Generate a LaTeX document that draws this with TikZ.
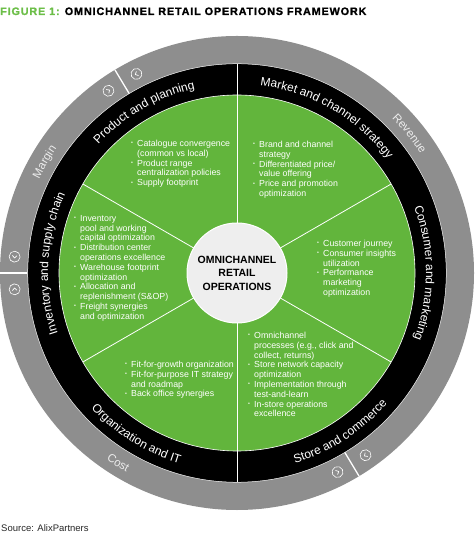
\documentclass[tikz,border=0pt]{standalone}
\usepackage{graphicx}
\usepackage{fontspec}
\setmainfont{Liberation Sans}
\newfontfamily\titlefont{Liberation Sans}[LetterSpace=8, BoldFeatures={FakeBold=1.2}]
\usetikzlibrary{decorations.text}
\definecolor{rgreen}{RGB}{98,181,60}
\definecolor{tgreen}{RGB}{108,190,72}
\definecolor{rgray}{RGB}{142,142,142}
\definecolor{cgray}{RGB}{238,238,238}
\definecolor{lblgray}{RGB}{236,236,236}
\newcommand\bi{\makebox[6pt][l]{\raisebox{0.35ex}{\scalebox{0.6}{\textbullet}}}}
\newcommand\bc{\hspace*{6pt}}
\tikzset{
  chevmark/.pic={
    \draw[white, line width=0.6pt] (0,0) circle[radius=5.5pt];
    \draw[white, line width=0.7pt, line cap=round, line join=round] (-1pt,2.2pt) -- (1.3pt,0pt) -- (-1pt,-2.2pt);
  },
  bul/.style={anchor=north west, inner sep=0pt, align=left, text=white, font=\fontsize{8.8}{9.8}\selectfont},
  ringlbl/.style={decorate, decoration={text along path, text align=center, text color=white, text={|\fontsize{12}{12}\selectfont|#1}}},
  outerlbl/.style={decorate, decoration={text along path, text align=center, text color=lblgray, text={|\fontsize{11.5}{12}\selectfont|#1}}},
  divider/.style={white, line width=0.8pt},
  graydiv/.style={white, line width=1.3pt}
}
\begin{document}
\begin{tikzpicture}
\useasboundingbox (-237pt,-264pt) rectangle (237pt,273pt);
% rings
\fill[rgray] (0,0) circle[radius=237pt];
\fill[black] (0,0) circle[radius=209pt];
\draw[white!80!gray, line width=0.5pt] (0,0) circle[radius=209.3pt];
\fill[rgreen] (0,0) circle[radius=178pt];
\draw[white, line width=0.6pt] (0,0) circle[radius=178pt];
% green dividers
\draw[divider] (90:50pt) -- (90:209pt);
\draw[divider] (-90:50pt) -- (-90:209pt);
\foreach \a in {30,-30,150,210} \draw[divider] (\a:50pt) -- (\a:178pt);
% gray dividers
\draw[graydiv] (121:209.5pt) -- (121:237pt);
\draw[graydiv] (180:209.5pt) -- (180:237pt);
\draw[graydiv] (-59:209.5pt) -- (-59:237pt);
% chevrons
\pic[rotate=35.2] at (125.2:223pt) {chevmark};
\pic[rotate=206.8] at (116.8:223pt) {chevmark};
\pic[rotate=265.8] at (175.8:223pt) {chevmark};
\pic[rotate=94.2] at (184.2:223pt) {chevmark};
\pic[rotate=-144.8] at (-54.8:223pt) {chevmark};
\pic[rotate=26.8] at (-63.2:223pt) {chevmark};
% hub
\node[circle, fill=cgray, draw=white, line width=1pt, minimum size=100pt, inner sep=0pt, align=center, font=\bfseries\fontsize{10.5}{13.5}\selectfont] (hub) at (0,0) {OMNICHANNEL\\RETAIL\\OPERATIONS};
% black ring labels
\path[ringlbl={Product and planning}] (150:189pt) arc[start angle=150, end angle=90, radius=189pt];
\path[ringlbl={Market and channel strategy}] (90:189pt) arc[start angle=90, end angle=30, radius=189pt];
\path[ringlbl={Consumer and marketing}] (30:189pt) arc[start angle=30, end angle=-30, radius=189pt];
\path[ringlbl={Inventory and supply chain}] (207:189pt) arc[start angle=207, end angle=147, radius=189pt];
\path[ringlbl={Organization and IT}] (208:199pt) arc[start angle=208, end angle=268, radius=199pt];
\path[ringlbl={Store and commerce}] (-87:199pt) arc[start angle=-87, end angle=-27, radius=199pt];
% gray ring labels
\path[outerlbl={Margin}] (180:219pt) arc[start angle=180, end angle=120, radius=219pt];
\path[outerlbl={Revenue}] (69:219pt) arc[start angle=69, end angle=9, radius=219pt];
\path[outerlbl={Cost}] (208:228pt) arc[start angle=208, end angle=268, radius=228pt];
% bullet lists
\node[bul] (s1) at (-106pt,133pt) {\bi Catalogue convergence\\ \bc(common vs local)\\ \bi Product range\\ \bc centralization policies\\ \bi Supply footprint};
\node[bul] (s2) at (16pt,132pt) {\bi Brand and channel\\ \bc strategy\\ \bi Differentiated price/\\ \bc value offering\\ \bi Price and promotion\\ \bc optimization};
\node[bul] (s3) at (80pt,33pt) {\bi Customer journey\\ \bi Consumer insights\\ \bc utilization\\ \bi Performance\\ \bc marketing\\ \bc optimization};
\node[bul] (s4) at (11pt,-59pt) {\bi Omnichannel\\ \bc processes (e.g., click and\\ \bc collect, returns)\\ \bi Store network capacity\\ \bc optimization\\ \bi Implementation through\\ \bc test-and-learn\\ \bi In-store operations\\ \bc excellence};
\node[bul] (s5) at (-112pt,-88pt) {\bi Fit-for-growth organization\\ \bi Fit-for-purpose IT strategy\\ \bc and roadmap\\ \bi Back office synergies};
\node[bul] (s6) at (-163pt,58pt) {\bi Inventory\\ \bc pool and working\\ \bc capital optimization\\ \bi Distribution center\\ \bc operations excellence\\ \bi Warehouse footprint\\ \bc optimization\\ \bi Allocation and\\ \bc replenishment (S\&OP)\\ \bi Freight synergies\\ \bc and optimization};
% title and source
\node[anchor=base west, inner sep=0pt, font=\titlefont\bfseries\fontsize{10.8}{12}\selectfont] (title) at (-237pt,258pt) {\textcolor{tgreen}{FIGURE 1:} OMNICHANNEL RETAIL OPERATIONS FRAMEWORK};
\node[anchor=base west, inner sep=0pt, font=\fontsize{9.5}{11}\selectfont, text=black!85] (src) at (-236pt,-258pt) {Source: AlixPartners};
\end{tikzpicture}
\end{document}
